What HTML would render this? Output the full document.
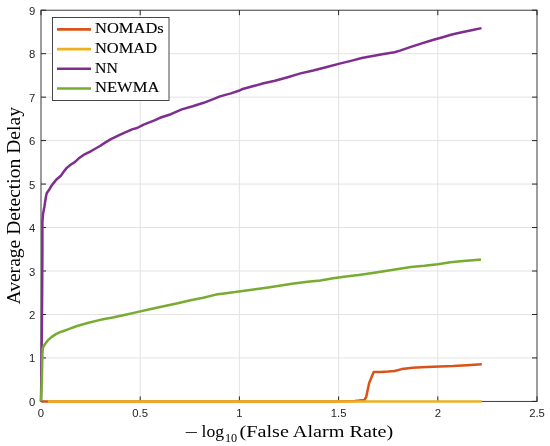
<!DOCTYPE html>
<html><head><meta charset="utf-8"><style>
html,body{margin:0;padding:0;background:#fff;}
body{width:550px;height:446px;overflow:hidden;}
svg{display:block;}
.tk{font-family:"Liberation Sans",Arial,sans-serif;font-size:11.3px;fill:#262626;}
.lb{font-family:"Liberation Serif","Times New Roman",serif;fill:#000;}
</style></head><body>
<svg width="550" height="446" viewBox="0 0 550 446">
<rect x="0" y="0" width="550" height="446" fill="#fff"/>
<g stroke="#e3e3e3" stroke-width="1"><line x1="140.20" y1="10.2" x2="140.20" y2="401.4"/><line x1="239.40" y1="10.2" x2="239.40" y2="401.4"/><line x1="338.60" y1="10.2" x2="338.60" y2="401.4"/><line x1="437.80" y1="10.2" x2="437.80" y2="401.4"/><line x1="41.0" y1="357.93" x2="537.0" y2="357.93"/><line x1="41.0" y1="314.47" x2="537.0" y2="314.47"/><line x1="41.0" y1="271.00" x2="537.0" y2="271.00"/><line x1="41.0" y1="227.53" x2="537.0" y2="227.53"/><line x1="41.0" y1="184.07" x2="537.0" y2="184.07"/><line x1="41.0" y1="140.60" x2="537.0" y2="140.60"/><line x1="41.0" y1="97.13" x2="537.0" y2="97.13"/><line x1="41.0" y1="53.67" x2="537.0" y2="53.67"/></g>
<g stroke="#262626" stroke-width="1"><line x1="41.00" y1="401.4" x2="41.00" y2="396.4"/><line x1="41.00" y1="10.2" x2="41.00" y2="15.2"/><line x1="140.20" y1="401.4" x2="140.20" y2="396.4"/><line x1="140.20" y1="10.2" x2="140.20" y2="15.2"/><line x1="239.40" y1="401.4" x2="239.40" y2="396.4"/><line x1="239.40" y1="10.2" x2="239.40" y2="15.2"/><line x1="338.60" y1="401.4" x2="338.60" y2="396.4"/><line x1="338.60" y1="10.2" x2="338.60" y2="15.2"/><line x1="437.80" y1="401.4" x2="437.80" y2="396.4"/><line x1="437.80" y1="10.2" x2="437.80" y2="15.2"/><line x1="537.00" y1="401.4" x2="537.00" y2="396.4"/><line x1="537.00" y1="10.2" x2="537.00" y2="15.2"/><line x1="41.0" y1="401.40" x2="46.0" y2="401.40"/><line x1="537.0" y1="401.40" x2="532.0" y2="401.40"/><line x1="41.0" y1="357.93" x2="46.0" y2="357.93"/><line x1="537.0" y1="357.93" x2="532.0" y2="357.93"/><line x1="41.0" y1="314.47" x2="46.0" y2="314.47"/><line x1="537.0" y1="314.47" x2="532.0" y2="314.47"/><line x1="41.0" y1="271.00" x2="46.0" y2="271.00"/><line x1="537.0" y1="271.00" x2="532.0" y2="271.00"/><line x1="41.0" y1="227.53" x2="46.0" y2="227.53"/><line x1="537.0" y1="227.53" x2="532.0" y2="227.53"/><line x1="41.0" y1="184.07" x2="46.0" y2="184.07"/><line x1="537.0" y1="184.07" x2="532.0" y2="184.07"/><line x1="41.0" y1="140.60" x2="46.0" y2="140.60"/><line x1="537.0" y1="140.60" x2="532.0" y2="140.60"/><line x1="41.0" y1="97.13" x2="46.0" y2="97.13"/><line x1="537.0" y1="97.13" x2="532.0" y2="97.13"/><line x1="41.0" y1="53.67" x2="46.0" y2="53.67"/><line x1="537.0" y1="53.67" x2="532.0" y2="53.67"/><line x1="41.0" y1="10.20" x2="46.0" y2="10.20"/><line x1="537.0" y1="10.20" x2="532.0" y2="10.20"/></g>
<rect x="41.0" y="10.2" width="496.0" height="391.2" fill="none" stroke="#262626" stroke-width="0.9"/>
<g fill="none" stroke-width="2.5" stroke-linejoin="round" stroke-linecap="butt"><polyline stroke="#D95319" points="41.0,401.4 338.0,401.4 355.0,401.0 364.3,400.0 366.1,397.4 367.6,390.3 369.1,383.2 370.7,379.2 373.7,371.9 380.3,371.9 388.3,371.6 394.5,371.0 401.8,369.1 412.7,367.7 426.4,367.1 440.0,366.6 453.2,366.1 466.8,365.2 481.8,364.3"/><polyline stroke="#EDB120" points="48.0,401.4 481.8,401.4"/><polyline stroke="#7E2F8E" points="41.0,401.4 41.3,380.0 41.7,345.0 42.1,300.0 42.4,250.0 42.4,222.0 43.1,213.5 44.4,206.7 45.4,200.0 46.0,196.5 46.7,193.2 49.1,189.8 51.4,185.8 54.1,182.4 56.2,179.7 58.2,178.0 60.9,175.8 64.1,171.1 66.8,167.9 70.6,164.7 75.1,161.9 79.6,157.7 84.6,154.3 89.7,151.8 94.7,149.0 100.0,146.0 105.5,142.4 110.9,139.1 121.8,133.9 132.7,129.1 137.1,128.0 143.6,124.7 154.5,120.4 160.0,117.8 170.9,114.2 181.8,109.4 192.7,106.3 203.6,102.8 214.5,98.7 220.0,96.4 230.9,93.4 239.6,90.5 241.8,89.3 252.7,86.3 263.6,83.3 275.0,80.7 287.7,77.2 300.5,73.4 313.2,70.5 325.9,67.3 338.6,63.9 350.9,60.9 361.8,58.0 372.7,56.0 383.6,54.1 394.5,52.2 400.0,50.6 410.9,46.9 421.8,43.4 432.7,40.0 443.6,37.0 450.9,34.8 461.8,32.2 472.7,30.0 481.5,28.1"/><polyline stroke="#77AC30" points="41.0,401.4 41.6,385.0 42.1,370.0 42.4,355.0 42.8,348.3 43.6,346.3 44.7,344.5 48.1,340.1 51.4,337.1 55.5,334.4 59.5,332.4 63.6,331.0 68.0,329.3 77.0,326.0 87.6,323.0 97.1,320.6 103.0,319.2 112.7,317.5 125.5,314.7 138.2,311.9 150.9,309.0 163.6,306.2 177.7,303.3 190.5,300.3 203.2,297.8 215.9,294.6 222.3,293.7 235.0,292.1 242.7,290.9 255.5,289.2 268.2,287.4 280.9,285.4 293.6,283.5 307.7,281.8 320.5,280.5 333.2,278.3 345.9,276.4 358.6,275.0 372.7,272.9 385.5,271.0 398.2,269.1 410.9,267.1 424.5,265.8 437.7,264.2 450.5,262.3 463.2,261.0 475.9,259.9 481.0,259.5"/></g>
<g class="tk"><text x="41.00" y="417.0" text-anchor="middle">0</text><text x="140.20" y="417.0" text-anchor="middle">0.5</text><text x="239.40" y="417.0" text-anchor="middle">1</text><text x="338.60" y="417.0" text-anchor="middle">1.5</text><text x="437.80" y="417.0" text-anchor="middle">2</text><text x="537.00" y="417.0" text-anchor="middle">2.5</text><text x="35.4" y="405.90" text-anchor="end">0</text><text x="35.4" y="362.43" text-anchor="end">1</text><text x="35.4" y="318.97" text-anchor="end">2</text><text x="35.4" y="275.50" text-anchor="end">3</text><text x="35.4" y="232.03" text-anchor="end">4</text><text x="35.4" y="188.57" text-anchor="end">5</text><text x="35.4" y="145.10" text-anchor="end">6</text><text x="35.4" y="101.63" text-anchor="end">7</text><text x="35.4" y="58.17" text-anchor="end">8</text><text x="35.4" y="14.70" text-anchor="end">9</text></g>
<rect x="52.5" y="17.5" width="116.5" height="83" fill="#fff" stroke="#333" stroke-width="0.9"/>
<line x1="57" y1="29.4" x2="91" y2="29.4" stroke="#D95319" stroke-width="2.6"/><text class="lb" x="95" y="33.3" font-size="15.5" stroke="#000" stroke-width="0.12" textLength="68.8" lengthAdjust="spacingAndGlyphs">NOMADs</text><line x1="57" y1="49.1" x2="91" y2="49.1" stroke="#EDB120" stroke-width="2.6"/><text class="lb" x="95" y="53.0" font-size="15.5" stroke="#000" stroke-width="0.12" textLength="62.1" lengthAdjust="spacingAndGlyphs">NOMAD</text><line x1="57" y1="68.8" x2="91" y2="68.8" stroke="#7E2F8E" stroke-width="2.6"/><text class="lb" x="95" y="72.7" font-size="15.5" stroke="#000" stroke-width="0.12" textLength="22.8" lengthAdjust="spacingAndGlyphs">NN</text><line x1="57" y1="88.5" x2="91" y2="88.5" stroke="#77AC30" stroke-width="2.6"/><text class="lb" x="95" y="92.4" font-size="15.5" stroke="#000" stroke-width="0.12" textLength="64.4" lengthAdjust="spacingAndGlyphs">NEWMA</text>
<g class="lb" font-size="17.5"><text x="184.6" y="438.3" textLength="13.6" lengthAdjust="spacingAndGlyphs">−</text><text x="201.6" y="437.4" textLength="22.6" lengthAdjust="spacingAndGlyphs">log</text><text x="225" y="441.9" font-size="12.5" textLength="12.2" lengthAdjust="spacingAndGlyphs">10</text><text x="239.6" y="437.4" textLength="153.6" lengthAdjust="spacingAndGlyphs">(False Alarm Rate)</text></g>
<text class="lb" transform="translate(19.5,205.8) rotate(-90)" font-size="18" text-anchor="middle" textLength="197.5" lengthAdjust="spacingAndGlyphs">Average Detection Delay</text>
</svg>
</body></html>
